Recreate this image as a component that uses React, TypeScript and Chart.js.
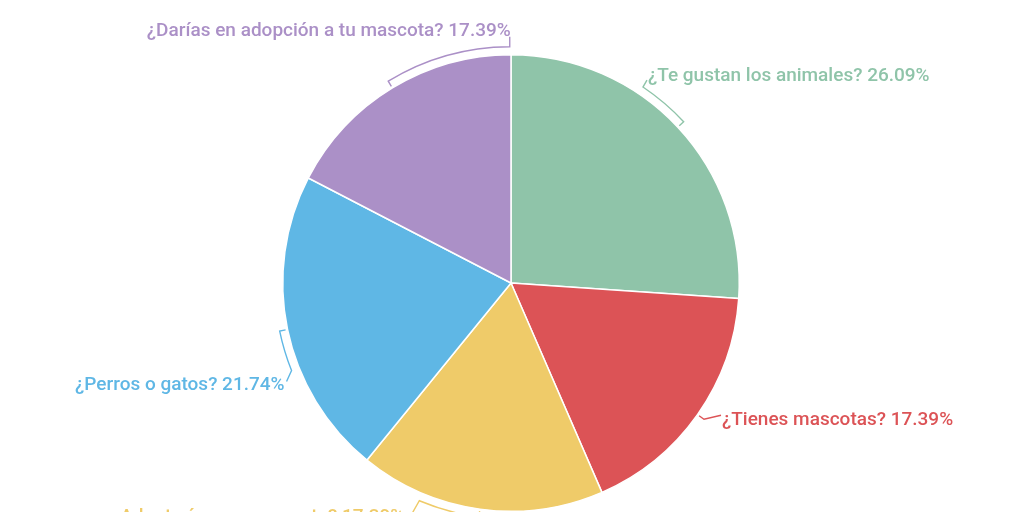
import { useEffect, useRef } from 'react';
import { Chart, registerables } from 'chart.js';

Chart.register(...registerables);

const labels = [
  '¿Te gustan los animales?',
  '¿Tienes mascotas?',
  '¿Adoptarías una mascota?',
  '¿Perros o gatos?',
  '¿Darías en adopción a tu mascota?',
];
const values = [6, 4, 4, 5, 4];
const colors = ['#8fc4a9', '#dc5356', '#efcb69', '#5fb7e5', '#ab90c7'];

// label placement (degrees from slice middle, leader and text offsets)
const labelShift = [-13, 0, 15, -10, 31];
const leaderOffset = [[4, -7], [17, -4], [-8, 14], [-5, 11], [0, -10]];
const textOffset = [[1, 1], [1, 10], [-7, 7], [-2, 8], [1, -1]];
const textAlign: CanvasTextAlign[] = ['left', 'left', 'right', 'right', 'right'];

const total = values.reduce((a, b) => a + b, 0);
const pct = values.map(v => ((v / total) * 100).toFixed(2));

const outsideLabels = {
  id: 'outsideLabels',
  afterDraw(chart: Chart) {
    const ctx = chart.ctx;
    const meta = chart.getDatasetMeta(0);
    ctx.save();
    ctx.font = '500 19px Roboto';
    ctx.lineWidth = 1.4;
    meta.data.forEach((el: any, i: number) => {
      const { x, y, startAngle, endAngle, outerRadius } = el;
      const mid = (startAngle + endAngle) / 2;
      const lab = mid + (labelShift[i] * Math.PI) / 180;
      const R = outerRadius + 8;
      const color = colors[i];
      ctx.strokeStyle = color;
      ctx.fillStyle = color;

      // bracket along the arc
      ctx.beginPath();
      ctx.moveTo(x + (outerRadius + 2) * Math.cos(mid), y + (outerRadius + 2) * Math.sin(mid));
      ctx.lineTo(x + R * Math.cos(mid), y + R * Math.sin(mid));
      if (lab !== mid) ctx.arc(x, y, R, mid, lab, lab < mid);
      const ex = x + R * Math.cos(lab);
      const ey = y + R * Math.sin(lab);
      const lx = ex + leaderOffset[i][0];
      const ly = ey + leaderOffset[i][1];
      ctx.lineTo(lx, ly);
      ctx.stroke();

      ctx.textAlign = textAlign[i];
      ctx.textBaseline = 'alphabetic';
      ctx.fillText(`${labels[i]} ${pct[i]}%`, lx + textOffset[i][0], ly + textOffset[i][1]);
    });
    ctx.restore();
  },
};

export default function App() {
  const chartRef = useRef<HTMLCanvasElement>(null);
  const chartInstance = useRef<Chart | null>(null);

  useEffect(() => {
    document.body.style.margin = '0';
    if (!chartRef.current) return;
    if (chartInstance.current) chartInstance.current.destroy();
    const ctx = chartRef.current.getContext('2d');
    if (!ctx) return;

    chartInstance.current = new Chart(ctx, {
      type: 'pie',
      data: {
        labels,
        datasets: [
          {
            data: values,
            backgroundColor: colors,
            borderColor: '#ffffff',
            borderWidth: 1.5,
          },
        ],
      },
      options: {
        responsive: true,
        maintainAspectRatio: false,
        animation: false,
        layout: { padding: { top: 54, bottom: 0, left: 0, right: 2 } },
        plugins: {
          legend: { display: false },
          tooltip: { enabled: false },
        },
      },
      plugins: [outsideLabels],
    });

    return () => {
      if (chartInstance.current) {
        chartInstance.current.destroy();
        chartInstance.current = null;
      }
    };
  }, []);

  return (
    <div style={{ width: 1024, height: 512, position: 'relative', background: '#fff' }}>
      <canvas ref={chartRef}></canvas>
    </div>
  );
}
